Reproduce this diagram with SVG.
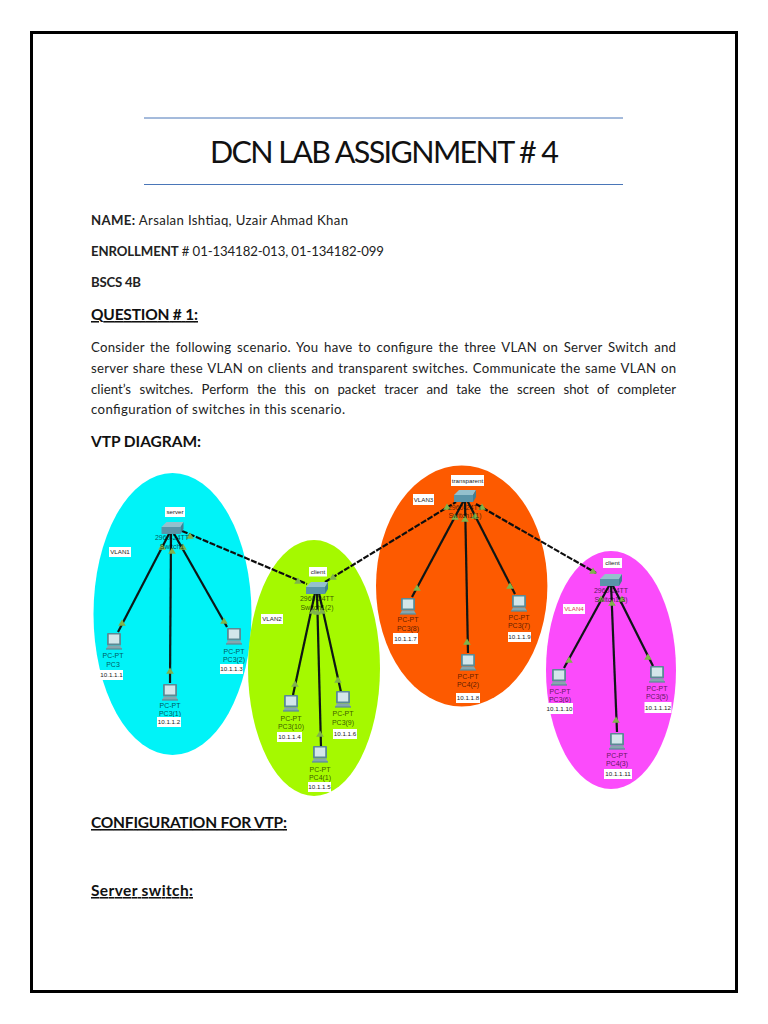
<svg xmlns="http://www.w3.org/2000/svg" width="768" height="1024" viewBox="0 0 768 1024">
<style>
.doc{font-family:"Lato","Liberation Sans",sans-serif;fill:#111}
.b{font-weight:700}
.body{font-size:13.2px;fill:#222}
.h{font-size:15.5px;font-weight:700}
.u{text-decoration:underline}
.t{font-family:"Liberation Sans",Arial,sans-serif;font-size:7px;text-anchor:middle;fill:#000;fill-opacity:.68}
.l{font-family:"Liberation Sans",Arial,sans-serif;font-size:6.2px;text-anchor:middle;fill:#222}
.box{fill:#fff}
.rule{stroke:#4a76b8;stroke-width:1}
.link{stroke:#0c1414;stroke-width:2.2;fill:none}
.trunk{stroke:#111;stroke-width:2.2;stroke-dasharray:6 1.5;fill:none}
.soft{filter:url(#blur)}
</style>
<defs>
<filter id="blur" x="-10%" y="-10%" width="120%" height="120%"><feGaussianBlur stdDeviation="0.35"/></filter>
<g id="pc">
<rect x="-7" y="-9" width="14" height="12.500" rx="1" fill="#5a8a95"/>
<rect x="-5.200" y="-7.500" width="10.400" height="9" fill="#d3e6ea"/>
<path d="M-6 3.500H6L8 7H-8Z" fill="#86a6ae"/>
<rect x="-8" y="6.400" width="16" height="1.200" fill="#5a8a95"/>
</g>
<g id="sw">
<path d="M-11 -1L-6 -6H11L8 -1Z" fill="#94c0cd"/>
<path d="M-11 -1H8V6H-11Z" fill="#5a94a8"/>
<path d="M8 -1L11 -6V1L8 6Z" fill="#437f93"/>
</g>
<path id="tri" d="M0 -3.500L3.800 2.800H-3.800Z" fill="#7fb34c"/>
</defs>
<rect width="768" height="1024" fill="#fff"/>
<rect x="31.500" y="32.500" width="705" height="959" fill="#fff" stroke="#000" stroke-width="3"/>

<g id="document">
<line class="rule" x1="144" y1="118" x2="623" y2="118"/>
<line class="rule" x1="144" y1="184.500" x2="623" y2="184.500"/>
<text class="doc" x="210" y="163" font-size="30.500" textLength="349">DCN LAB ASSIGNMENT # 4</text>
<text class="doc body" x="91" y="225" textLength="257"><tspan class="b">NAME:</tspan> Arsalan Ishtiaq, Uzair Ahmad Khan</text>
<text class="doc body" x="91" y="256" textLength="293"><tspan class="b">ENROLLMENT</tspan> # 01-134182-013, 01-134182-099</text>
<text class="doc body b" x="91" y="287" textLength="50">BSCS 4B</text>
<text class="doc h u" x="91" y="320" textLength="107">QUESTION # 1:</text>
<text class="doc body" x="91" y="352" word-spacing="2" textLength="585">Consider the following scenario. You have to configure the three VLAN on Server Switch and</text>
<text class="doc body" x="91" y="372.500" word-spacing="1" textLength="585">server share these VLAN on clients and transparent switches. Communicate the same VLAN on</text>
<text class="doc body" x="91" y="393.500" word-spacing="5" textLength="585">client’s switches. Perform the this on packet tracer and take the screen shot of completer</text>
<text class="doc body" x="91" y="414" textLength="254">configuration of switches in this scenario.</text>
<text class="doc h" x="91" y="447" textLength="110">VTP DIAGRAM:</text>
<text class="doc h u" x="91" y="828" textLength="196">CONFIGURATION FOR VTP:</text>
<text class="doc h u" x="91" y="896" textLength="102">Server switch:</text>
</g>

<g id="vlan-areas" class="soft">
<ellipse cx="172.500" cy="614" rx="79" ry="141" fill="#00f3f8"/>
<ellipse cx="314" cy="668" rx="66" ry="128" fill="#a5f900"/>
<ellipse cx="461.700" cy="586" rx="85.700" ry="120.500" fill="#fd5a00"/>
<ellipse cx="611" cy="670" rx="65" ry="119" fill="#fb4cfb"/>
</g>

<g id="connectors" class="soft">
<line class="link" x1="170" y1="532" x2="118" y2="632"/>
<line class="link" x1="171" y1="532" x2="170" y2="683"/>
<line class="link" x1="173" y1="532" x2="227" y2="627"/>
<line class="link" x1="315" y1="593" x2="293" y2="695"/>
<line class="link" x1="317" y1="593" x2="321" y2="747"/>
<line class="link" x1="319" y1="593" x2="341" y2="692"/>
<line class="link" x1="464" y1="500" x2="412" y2="597"/>
<line class="link" x1="465" y1="500" x2="468" y2="653"/>
<line class="link" x1="467" y1="500" x2="515" y2="594"/>
<line class="link" x1="610" y1="584" x2="564" y2="668"/>
<line class="link" x1="611" y1="584" x2="617" y2="732"/>
<line class="link" x1="612" y1="584" x2="653" y2="666"/>
<line class="trunk" x1="182" y1="531" x2="307" y2="584"/>
<line class="trunk" x1="325" y1="582" x2="456" y2="502"/>
<line class="trunk" x1="476" y1="504" x2="596" y2="573"/>
<g id="link-lights">
<use href="#tri" x="162" y="547"/><use href="#tri" x="172" y="551"/><use href="#tri" x="183" y="547"/>
<use href="#tri" x="190" y="536"/><use href="#tri" x="298" y="581"/><use href="#tri" x="333" y="577"/>
<use href="#tri" x="122" y="623"/><use href="#tri" x="170" y="671"/><use href="#tri" x="224" y="621"/>
<use href="#tri" x="313" y="611"/><use href="#tri" x="317" y="612"/><use href="#tri" x="322" y="611"/>
<use href="#tri" x="295" y="684"/><use href="#tri" x="320" y="734"/><use href="#tri" x="338" y="680"/>
<use href="#tri" x="447" y="507"/><use href="#tri" x="455" y="517"/><use href="#tri" x="465" y="519"/><use href="#tri" x="475" y="516"/><use href="#tri" x="482" y="507"/>
<use href="#tri" x="417" y="588"/><use href="#tri" x="467" y="642"/><use href="#tri" x="510" y="586"/>
<use href="#tri" x="593" y="571"/><use href="#tri" x="601" y="599"/><use href="#tri" x="612" y="603"/><use href="#tri" x="622" y="599"/>
<use href="#tri" x="569" y="660"/><use href="#tri" x="616" y="720"/><use href="#tri" x="648" y="657"/>
</g>
</g>

<g id="vlan-labels">
<g id="vlan1"><rect class="box" x="109" y="547" width="22" height="10"/><text class="l" x="120" y="554">VLAN1</text></g>
<g id="vlan2"><rect class="box" x="261" y="614" width="22" height="10"/><text class="l" x="272" y="621">VLAN2</text></g>
<g id="vlan3"><rect class="box" x="413" y="494" width="21" height="11"/><text class="l" x="423.500" y="501.500">VLAN3</text></g>
<g id="vlan4"><rect class="box" x="563" y="604" width="22" height="10"/><text class="l" x="574" y="611" style="fill:#e0305a">VLAN4</text></g>
</g>

<g id="switch-server"><use class="soft" href="#sw" x="172.500" y="528"/><rect class="box" x="165" y="507" width="20" height="10"/><text class="l" x="175" y="514">server</text><text class="t" x="172" y="539.500">2960-24TT</text><text class="t" x="172" y="549">Switch1</text></g>
<g id="switch-client-1"><use class="soft" href="#sw" x="317" y="588"/><rect class="box" x="309" y="567" width="18" height="9.500"/><text class="l" x="318" y="574">client</text><text class="t" x="317" y="600.500">2960-24TT</text><text class="t" x="317" y="609.500">Switch1(2)</text></g>
<g id="switch-transparent"><use class="soft" href="#sw" x="465" y="496"/><rect class="box" x="451" y="475" width="33" height="11"/><text class="l" x="467.500" y="482.500">transparent</text><text class="t" x="465" y="509.500">2960-24TT</text><text class="t" x="465" y="517.500">Switch1(1)</text></g>
<g id="switch-client-2"><use class="soft" href="#sw" x="611" y="580"/><rect class="box" x="603" y="558" width="19" height="10"/><text class="l" x="612.500" y="565">client</text><text class="t" x="611" y="592.500">2960-24TT</text><text class="t" x="611" y="601.500">Switch1(3)</text></g>

<g id="pc3"><use class="soft" href="#pc" x="114" y="642"/><text class="t" x="113" y="657.500">PC-PT</text><text class="t" x="113" y="666.500">PC3</text><rect class="box" x="100" y="670" width="23" height="10"/><text class="l" x="111.500" y="677">10.1.1.1</text></g>
<g id="pc3-1"><use class="soft" href="#pc" x="170" y="693"/><text class="t" x="170" y="707.500">PC-PT</text><text class="t" x="170" y="715.500">PC3(1)</text><rect class="box" x="157" y="717" width="24" height="10"/><text class="l" x="169" y="724">10.1.1.2</text></g>
<g id="pc3-2"><use class="soft" href="#pc" x="234" y="637"/><text class="t" x="234" y="653.500">PC-PT</text><text class="t" x="234" y="661.500">PC3(2)</text><rect class="box" x="220" y="664" width="23" height="10"/><text class="l" x="231.500" y="671">10.1.1.3</text></g>

<g id="pc3-10"><use class="soft" href="#pc" x="291" y="704"/><text class="t" x="291" y="720.500">PC-PT</text><text class="t" x="291" y="728.500">PC3(10)</text><rect class="box" x="277" y="732" width="25" height="10"/><text class="l" x="289.500" y="739">10.1.1.4</text></g>
<g id="pc3-9"><use class="soft" href="#pc" x="343" y="700"/><text class="t" x="343" y="715.500">PC-PT</text><text class="t" x="343" y="724.500">PC3(9)</text><rect class="box" x="333" y="729" width="24" height="10"/><text class="l" x="345" y="736">10.1.1.6</text></g>
<g id="pc4-1"><use class="soft" href="#pc" x="320" y="755"/><text class="t" x="320" y="771.500">PC-PT</text><text class="t" x="320" y="779.500">PC4(1)</text><rect class="box" x="308" y="782" width="23" height="10"/><text class="l" x="319.500" y="789">10.1.1.5</text></g>

<g id="pc3-8"><use class="soft" href="#pc" x="408" y="607"/><text class="t" x="408" y="621.500">PC-PT</text><text class="t" x="408" y="630.500">PC3(8)</text><rect class="box" x="393" y="633" width="25" height="11"/><text class="l" x="405.500" y="640.500">10.1.1.7</text></g>
<g id="pc3-7"><use class="soft" href="#pc" x="519" y="604"/><text class="t" x="519" y="619.500">PC-PT</text><text class="t" x="519" y="627.500">PC3(7)</text><rect class="box" x="508" y="632" width="23" height="10"/><text class="l" x="519.500" y="639">10.1.1.9</text></g>
<g id="pc4-2"><use class="soft" href="#pc" x="468" y="663"/><text class="t" x="468" y="678.500">PC-PT</text><text class="t" x="468" y="686.500">PC4(2)</text><rect class="box" x="456" y="693" width="24" height="10"/><text class="l" x="468" y="700">10.1.1.8</text></g>

<g id="pc3-6"><use class="soft" href="#pc" x="559" y="678"/><text class="t" x="560" y="693.500">PC-PT</text><text class="t" x="560" y="701.500">PC3(6)</text><rect class="box" x="546" y="703" width="27" height="11"/><text class="l" x="559.500" y="710.500">10.1.1.10</text></g>
<g id="pc3-5"><use class="soft" href="#pc" x="657" y="675"/><text class="t" x="657" y="690.500">PC-PT</text><text class="t" x="657" y="698.500">PC3(5)</text><rect class="box" x="644.500" y="702" width="27" height="11"/><text class="l" x="658" y="709.500">10.1.1.12</text></g>
<g id="pc4-3"><use class="soft" href="#pc" x="617" y="742"/><text class="t" x="617" y="757.500">PC-PT</text><text class="t" x="617" y="765.500">PC4(3)</text><rect class="box" x="604" y="769" width="28" height="10"/><text class="l" x="618" y="776">10.1.1.11</text></g>
</svg>
